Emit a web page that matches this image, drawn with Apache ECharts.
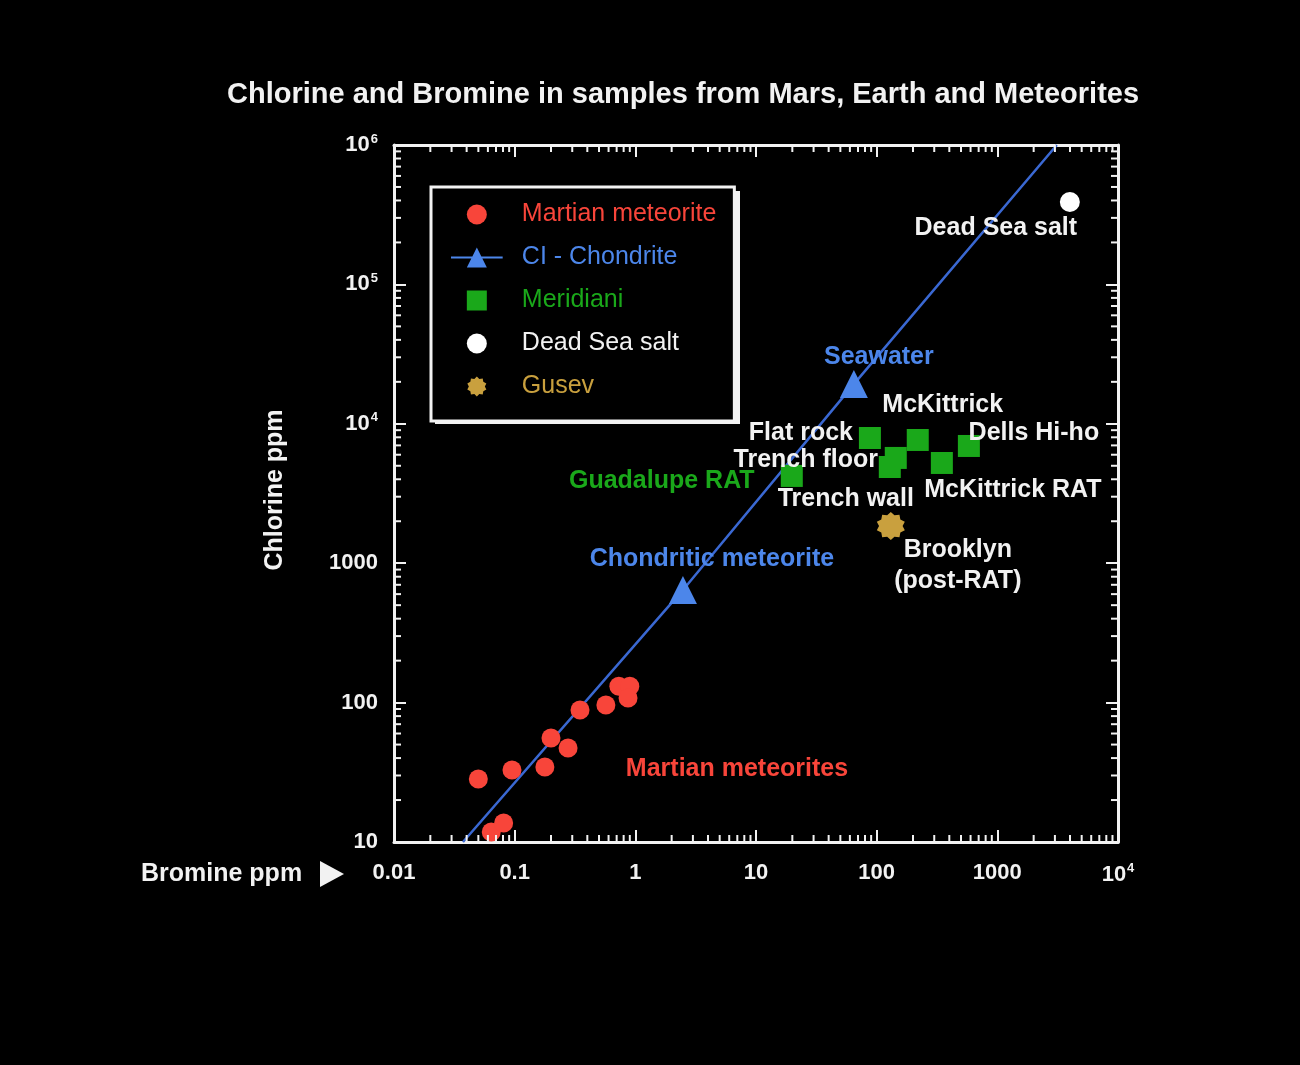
<!DOCTYPE html>
<html>
<head>
<meta charset="utf-8">
<title>Chlorine and Bromine</title>
<script src="https://cdn.jsdelivr.net/npm/echarts@6/dist/echarts.min.js"></script>
<style>
  html, body { margin: 0; padding: 0; background: #000; }
  #chart { width: 1300px; height: 1065px; }
</style>
</head>
<body>
<div id="chart"></div>
<script>
// Bromine ppm (x) vs Chlorine ppm (y)
const martianBr = [0.050, 0.095, 0.178, 0.20, 0.277, 0.348, 0.57, 0.73, 0.90, 0.87, 0.064, 0.081]
const martianCl = [28.3, 32.8, 34.5, 55.7, 47.2, 88.5, 96, 131, 131, 108, 11.8, 13.7]

const chondriteNames = ['', 'Chondritic meteorite', 'Seawater', '']
const chondriteBr = [0.0373, 2.48, 64.7, 3112]
const chondriteCl = [10, 643, 19270, 1000000]

const meridianiNames = ['Guadalupe RAT', 'Flat rock', 'McKittrick', 'Trench floor', 'Trench wall', 'McKittrick RAT', 'Dells Hi-ho']
const meridianiBr = [19.8, 87.9, 219, 144, 128.5, 347, 581]
const meridianiCl = [4227, 7907, 7656, 5690, 4898, 5236, 6934]

const deadSeaNames = ['Dead Sea salt']
const deadSeaBr = [3990]
const deadSeaCl = [390000]

const gusevNames = ['Brooklyn\n(post-RAT)']
const gusevBr = [131]
const gusevCl = [1849]

const xTickLabels = ['0.01', '0.1', '1', '10', '100', '1000', '10{sup|4}']
const yTickLabels = ['10', '100', '1000', '10{sup|4}', '10{sup|5}', '10{sup|6}']

const X_MIN = 0.01, X_MAX = 10000
const Y_MIN = 10, Y_MAX = 1000000

const FONT = '"Liberation Sans", Arial, Helvetica, sans-serif'
const RED = '#f8453a'
const BLUE_LINE = '#3a68d2'
const BLUE = '#4c86ea'
const GREEN = '#1aa81a'
const GOLD = '#c9a03e'
const WHITE = '#f2f2f2'

// label offsets (px, from the symbol centre) for the annotated points
const labelOffsets = {
  'Chondritic meteorite': [29, -31],
  'Seawater': [25, -27],
  'Guadalupe RAT': [-130, 5],
  'Flat rock': [-69, -5],
  'McKittrick': [25, -35],
  'Trench floor': [-90, 2],
  'Trench wall': [-44, 32],
  'McKittrick RAT': [71, 27],
  'Dells Hi-ho': [65, -13],
  'Dead Sea salt': [-74, 26],
  'Brooklyn\n(post-RAT)': [67, 40]
}

// minor tick positions 2..9 inside every decade
function minorTicks(lo, hi) {
  const out = []
  for (let e = Math.round(Math.log10(lo)); e < Math.round(Math.log10(hi)); e++) {
    for (let k = 2; k <= 9; k++) out.push(k * Math.pow(10, e))
  }
  return out
}

function sunPath(n, rIn) {
  let d = ''
  for (let i = 0; i < 2 * n; i++) {
    const r = i % 2 ? rIn : 1
    const a = Math.PI * i / n
    d += (i ? 'L' : 'M') + (50 + 50 * r * Math.sin(a)).toFixed(1) + ' ' + (50 - 50 * r * Math.cos(a)).toFixed(1)
  }
  return 'path://' + d + 'Z'
}

const SQUARE = 'path://M0 0H10V10H0Z'
const GUSEV = sunPath(10, 0.8)
// legend icon for the chondrite line: thin line with a big triangle on it
const CI_ICON = 'path://M0 12.8H62V15.2H0Z M19 26 L31 2 L43 26Z'

function pointLabel(name, color) {
  const off = labelOffsets[name]
  if (!off) return { show: false }
  return {
    show: true,
    position: 'inside',
    offset: off,
    formatter: name,
    color: color,
    fontFamily: FONT,
    fontWeight: 'bold',
    fontSize: 25,
    lineHeight: 31
  }
}

function zipPoints(xs, ys, names, color) {
  return xs.map((x, i) => {
    const name = names ? names[i] : ''
    return { value: [x, ys[i]], name: name, label: pointLabel(name, color) }
  })
}

function tickLabel(labels, lo) {
  return {
    color: WHITE,
    fontFamily: FONT,
    fontWeight: 'bold',
    fontSize: 22,
    formatter: v => labels[Math.round(Math.log10(v)) - Math.round(Math.log10(lo))],
    rich: { sup: { fontSize: 13, fontWeight: 'bold', color: WHITE, verticalAlign: 'top', padding: [0, 0, 12, 1] } }
  }
}

const axisBase = {
  type: 'log',
  logBase: 10,
  axisLine: { show: true, onZero: false, lineStyle: { color: WHITE, width: 3 } },
  axisTick: { show: true, inside: true, length: 12, lineStyle: { color: WHITE, width: 2 } },
  splitLine: { show: false },
  minorTick: { show: false }
}

function tickSeries(axisDir, values) {
  return {
    type: 'custom',
    silent: true,
    z: 5,
    clip: false,
    data: values.map(v => axisDir === 'x' ? [v, Y_MIN] : [X_MIN, v]),
    renderItem: (params, api) => {
      const style = { stroke: WHITE, lineWidth: 2 }
      let a, b
      if (axisDir === 'x') {
        a = api.coord([api.value(0), Y_MIN])
        b = api.coord([api.value(0), Y_MAX])
        return { type: 'group', children: [
          { type: 'line', shape: { x1: a[0], y1: a[1], x2: a[0], y2: a[1] - 7 }, style },
          { type: 'line', shape: { x1: b[0], y1: b[1], x2: b[0], y2: b[1] + 7 }, style }
        ] }
      }
      a = api.coord([X_MIN, api.value(1)])
      b = api.coord([X_MAX, api.value(1)])
      return { type: 'group', children: [
        { type: 'line', shape: { x1: a[0], y1: a[1], x2: a[0] + 7, y2: a[1] }, style },
        { type: 'line', shape: { x1: b[0], y1: b[1], x2: b[0] - 7, y2: b[1] }, style }
      ] }
    }
  }
}

function buildOption() {
  const legendItems = [
    ['Martian meteorite', RED, 'circle'],
    ['CI - Chondrite', BLUE, CI_ICON],
    ['Meridiani', GREEN, SQUARE],
    ['Dead Sea salt', WHITE, 'circle'],
    ['Gusev', GOLD, GUSEV]
  ]
  return {
    backgroundColor: '#000',
    animation: false,
    textStyle: { fontFamily: FONT },
    title: {
      text: 'Chlorine and Bromine in samples from Mars, Earth and Meteorites',
      left: 222,
      top: 75,
      textStyle: { color: WHITE, fontSize: 29, fontWeight: 'bold', fontFamily: FONT }
    },
    legend: {
      orient: 'vertical',
      left: 431,
      top: 187,
      z: 10,
      padding: [15, 18, 22, 20],
      itemWidth: 62,
      itemHeight: 20,
      itemGap: 18,
      selectedMode: false,
      backgroundColor: '#000',
      borderColor: WHITE,
      borderWidth: 3,
      textStyle: { fontSize: 25, fontFamily: FONT, padding: [0, 0, 0, 9] },
      data: legendItems.map(([name, color, icon]) => ({ name, icon, textStyle: { color } }))
    },
    grid: { left: 394, right: 182, top: 145, bottom: 223 },
    xAxis: [
      Object.assign({}, axisBase, { position: 'bottom', min: X_MIN, max: X_MAX, splitNumber: 6,
        axisLabel: Object.assign(tickLabel(xTickLabels, X_MIN), { margin: 20 }) }),
      Object.assign({}, axisBase, { position: 'top', min: X_MIN, max: X_MAX, splitNumber: 6,
        axisLabel: { show: false } })
    ],
    yAxis: [
      Object.assign({}, axisBase, { position: 'left', min: Y_MIN, max: Y_MAX, splitNumber: 5,
        axisLabel: Object.assign(tickLabel(yTickLabels, Y_MIN), { margin: 16 }) }),
      Object.assign({}, axisBase, { position: 'right', min: Y_MIN, max: Y_MAX, splitNumber: 5,
        axisLabel: { show: false } })
    ],
    graphic: [
      {
        // white drop edge behind the legend box
        type: 'rect', z: 1,
        shape: { x: 435, y: 191, width: 305, height: 233 },
        style: { fill: WHITE }
      },
      {
        type: 'text', x: 275, y: 490, rotation: Math.PI / 2,
        style: { text: 'Chlorine ppm', fill: WHITE, font: 'bold 25px ' + FONT, align: 'center', verticalAlign: 'middle' }
      },
      {
        type: 'text', x: 141, y: 874,
        style: { text: 'Bromine ppm', fill: WHITE, font: 'bold 25px ' + FONT, align: 'left', verticalAlign: 'middle' }
      },
      {
        type: 'polygon',
        shape: { points: [[320, 861], [344, 874], [320, 887]] },
        style: { fill: WHITE }
      },
      {
        type: 'text', x: 737, y: 769,
        style: { text: 'Martian meteorites', fill: RED, font: 'bold 25px ' + FONT, align: 'center', verticalAlign: 'middle' }
      }
    ],
    series: [
      tickSeries('x', minorTicks(X_MIN, X_MAX)),
      tickSeries('y', minorTicks(Y_MIN, Y_MAX)),
      {
        name: 'CI - Chondrite',
        type: 'line',
        symbol: 'triangle',
        symbolSize: 28,
        z: 3,
        itemStyle: { color: BLUE },
        lineStyle: { color: BLUE_LINE, width: 2.5 },
        data: zipPoints(chondriteBr, chondriteCl, chondriteNames, BLUE).map(d =>
          d.name ? d : Object.assign(d, { symbol: 'none' }))
      },
      {
        name: 'Martian meteorite',
        type: 'scatter',
        symbol: 'circle',
        symbolSize: 19,
        z: 4,
        itemStyle: { color: RED, opacity: 1 },
        data: zipPoints(martianBr, martianCl, null, RED)
      },
      {
        name: 'Meridiani',
        type: 'scatter',
        symbol: SQUARE,
        symbolSize: 22,
        z: 4,
        itemStyle: { color: GREEN, opacity: 1 },
        data: meridianiBr.map((x, i) => {
          const name = meridianiNames[i]
          return { value: [x, meridianiCl[i]], name, label: pointLabel(name, i === 0 ? GREEN : WHITE) }
        })
      },
      {
        name: 'Dead Sea salt',
        type: 'scatter',
        symbol: 'circle',
        symbolSize: 20,
        z: 4,
        itemStyle: { color: '#ffffff', opacity: 1 },
        data: zipPoints(deadSeaBr, deadSeaCl, deadSeaNames, WHITE)
      },
      {
        name: 'Gusev',
        type: 'scatter',
        symbol: GUSEV,
        symbolSize: 28,
        z: 4,
        itemStyle: { color: GOLD, opacity: 1 },
        data: zipPoints(gusevBr, gusevCl, gusevNames, WHITE)
      }
    ]
  }
}

const chart = echarts.init(document.getElementById('chart'))
chart.setOption(buildOption())
</script>
</body>
</html>
